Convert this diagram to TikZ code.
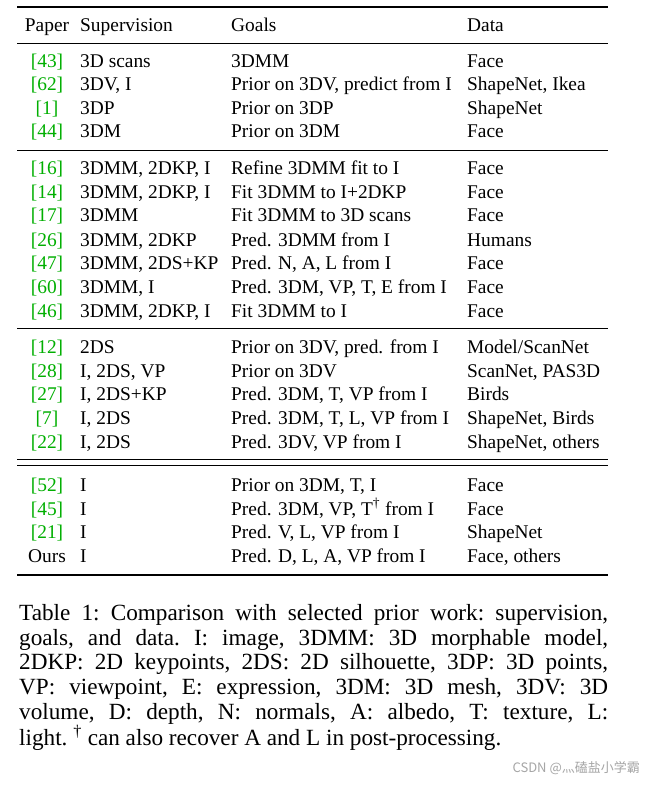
\documentclass[tikz,border=0pt]{standalone}
\usepackage{fontspec}
\setmainfont{Liberation Serif}
\newfontfamily\cjk{Noto Sans CJK SC}
\definecolor{citegreen}{RGB}{0,175,0}
\begin{document}
\begin{tikzpicture}[x=1pt,y=-1pt,
  cell/.style={anchor=base west,inner sep=0pt,font=\fontsize{19.4}{21}\selectfont},
  cite/.style={anchor=base,inner sep=0pt,font=\fontsize{19.4}{21}\selectfont,text=citegreen},
  rulel/.style={line width=1.1pt},
  rules/.style={line width=0.6pt}]
\useasboundingbox (0,0) rectangle (655,786);
\fill[white] (0,0) rectangle (655,786);
\node[cite,text=black] (h0) at (47,32) {Paper};
\node[cell] (h1) at (80,32) {Supervision};
\node[cell] (h2) at (231,32) {Goals};
\node[cell] (h3) at (467,32) {Data};
\foreach \y/\c/\s/\g/\d [count=\i] in {
 61/43/3D scans/3DMM/Face,
 84/62/{3DV, I}/{Prior on 3DV, predict from I}/{ShapeNet, Ikea},
 108/1/3DP/Prior on 3DP/ShapeNet,
 131/44/3DM/Prior on 3DM/Face,
 168/16/{3DMM, 2DKP, I}/Refine 3DMM fit to I/Face,
 192/14/{3DMM, 2DKP, I}/Fit 3DMM to I+2DKP/Face,
 215/17/3DMM/Fit 3DMM to 3D scans/Face,
 239/26/{3DMM, 2DKP}/Pred. 3DMM from I/Humans,
 262/47/{3DMM, 2DS+KP}/{Pred. N, A, L from I}/Face,
 286/60/{3DMM, I}/{Pred. 3DM, VP, T, E from I}/Face,
 310/46/{3DMM, 2DKP, I}/Fit 3DMM to I/Face,
 346/12/2DS/{Prior on 3DV, pred. from I}/{Model\slash ScanNet},
 370/28/{I, 2DS, VP}/Prior on 3DV/{ScanNet, PAS3D},
 393/27/{I, 2DS+KP}/{Pred. 3DM, T, VP from I}/Birds,
 417/7/{I, 2DS}/{Pred. 3DM, T, L, VP from I}/{ShapeNet, Birds},
 441/22/{I, 2DS}/{Pred. 3DV, VP from I}/{ShapeNet, others},
 484/52/I/{Prior on 3DM, T, I}/Face,
 508/45/I/{Pred. 3DM, VP, T\textsuperscript{\dag} from I}/Face,
 531/21/I/{Pred. V, L, VP from I}/ShapeNet}{
  \node[cite] (c\i) at (47,\y+7) {[\c]};
  \node[cell] (s\i) at (80,\y+7) {\s};
  \node[cell] (g\i) at (231,\y+7) {\g};
  \node[cell] (d\i) at (467,\y+7) {\d};
}
\node[cite,text=black] (o0) at (47,562) {Ours};
\node[cell] (o1) at (80,562) {I};
\node[cell] (o2) at (231,562) {Pred. D, L, A, VP from I};
\node[cell] (o3) at (467,562) {Face, others};
\draw[rulel] (17,7) -- (608,7);
\draw[rules] (17,43) -- (608,43);
\draw[rules] (17,150) -- (608,150);
\draw[rules] (17,328) -- (608,328);
\draw[rules] (17,459) -- (608,459);
\draw[rules] (17,465) -- (608,465);
\draw[rulel] (17,575) -- (608,575);
\node[anchor=north west,inner sep=0pt,text width=589pt,align=justify,
  font=\fontsize{23.2}{24.8}\selectfont] (cap) at (19,604) {\frenchspacing Table 1: Comparison with selected prior work: supervision,\linebreak
goals, and data. I: image, 3DMM: 3D morphable model,\linebreak
2DKP: 2D keypoints, 2DS: 2D silhouette, 3DP: 3D points,\linebreak
VP: viewpoint, E: expression, 3DM: 3D mesh, 3DV: 3D\linebreak
volume, D: depth, N: normals, A: albedo, T: texture, L:\linebreak
light. \textsuperscript{\dag} can also recover A and L in post-processing.};
\node[anchor=east,inner sep=0pt,text=black!35,font=\cjk\fontsize{13}{14}\selectfont] (wm) at (640,768) {CSDN @灬磕盐小学霸};
\end{tikzpicture}
\end{document}
